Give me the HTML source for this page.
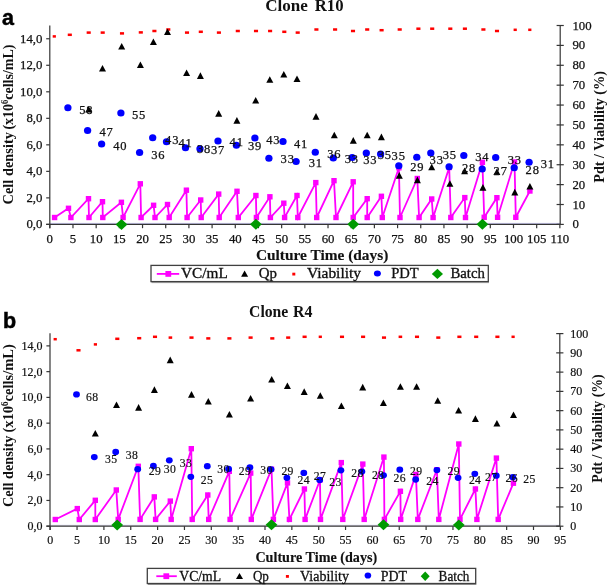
<!DOCTYPE html>
<html><head><meta charset="utf-8"><title>Clone R10 / Clone R4</title>
<style>html,body{margin:0;padding:0;background:#fff;}svg{display:block;}</style>
</head><body>
<svg width="609" height="586" viewBox="0 0 609 586">
<rect width="609" height="586" fill="#fff"/>
<line x1="49.80" y1="223.40" x2="560.20" y2="223.40" stroke="#c9c6f2" stroke-width="1.0"/>
<line x1="49.80" y1="25.50" x2="49.80" y2="228.20" stroke="#353535" stroke-width="1.2"/>
<line x1="46.20" y1="224.40" x2="560.20" y2="224.40" stroke="#353535" stroke-width="1.2"/>
<line x1="560.20" y1="25.50" x2="560.20" y2="224.40" stroke="#353535" stroke-width="1.2"/>
<line x1="46.20" y1="224.40" x2="49.80" y2="224.40" stroke="#353535" stroke-width="1.2"/>
<text transform="translate(42.40,228.40)" font-size="12.8" font-family="'Liberation Serif','Times New Roman',serif" fill="#111" stroke="#111" stroke-width="0.25" text-anchor="end">0,0</text>
<line x1="46.20" y1="197.88" x2="49.80" y2="197.88" stroke="#353535" stroke-width="1.2"/>
<text transform="translate(42.40,201.88)" font-size="12.8" font-family="'Liberation Serif','Times New Roman',serif" fill="#111" stroke="#111" stroke-width="0.25" text-anchor="end">2,0</text>
<line x1="46.20" y1="171.36" x2="49.80" y2="171.36" stroke="#353535" stroke-width="1.2"/>
<text transform="translate(42.40,175.36)" font-size="12.8" font-family="'Liberation Serif','Times New Roman',serif" fill="#111" stroke="#111" stroke-width="0.25" text-anchor="end">4,0</text>
<line x1="46.20" y1="144.84" x2="49.80" y2="144.84" stroke="#353535" stroke-width="1.2"/>
<text transform="translate(42.40,148.84)" font-size="12.8" font-family="'Liberation Serif','Times New Roman',serif" fill="#111" stroke="#111" stroke-width="0.25" text-anchor="end">6,0</text>
<line x1="46.20" y1="118.32" x2="49.80" y2="118.32" stroke="#353535" stroke-width="1.2"/>
<text transform="translate(42.40,122.32)" font-size="12.8" font-family="'Liberation Serif','Times New Roman',serif" fill="#111" stroke="#111" stroke-width="0.25" text-anchor="end">8,0</text>
<line x1="46.20" y1="91.80" x2="49.80" y2="91.80" stroke="#353535" stroke-width="1.2"/>
<text transform="translate(42.40,95.80)" font-size="12.8" font-family="'Liberation Serif','Times New Roman',serif" fill="#111" stroke="#111" stroke-width="0.25" text-anchor="end">10,0</text>
<line x1="46.20" y1="65.28" x2="49.80" y2="65.28" stroke="#353535" stroke-width="1.2"/>
<text transform="translate(42.40,69.28)" font-size="12.8" font-family="'Liberation Serif','Times New Roman',serif" fill="#111" stroke="#111" stroke-width="0.25" text-anchor="end">12,0</text>
<line x1="46.20" y1="38.76" x2="49.80" y2="38.76" stroke="#353535" stroke-width="1.2"/>
<text transform="translate(42.40,42.76)" font-size="12.8" font-family="'Liberation Serif','Times New Roman',serif" fill="#111" stroke="#111" stroke-width="0.25" text-anchor="end">14,0</text>
<line x1="556.60" y1="224.40" x2="563.80" y2="224.40" stroke="#353535" stroke-width="1.2"/>
<text transform="translate(572.40,228.40)" font-size="12.8" font-family="'Liberation Serif','Times New Roman',serif" fill="#111" stroke="#111" stroke-width="0.25">0</text>
<line x1="556.60" y1="204.51" x2="563.80" y2="204.51" stroke="#353535" stroke-width="1.2"/>
<text transform="translate(572.40,208.51)" font-size="12.8" font-family="'Liberation Serif','Times New Roman',serif" fill="#111" stroke="#111" stroke-width="0.25">10</text>
<line x1="556.60" y1="184.62" x2="563.80" y2="184.62" stroke="#353535" stroke-width="1.2"/>
<text transform="translate(572.40,188.62)" font-size="12.8" font-family="'Liberation Serif','Times New Roman',serif" fill="#111" stroke="#111" stroke-width="0.25">20</text>
<line x1="556.60" y1="164.73" x2="563.80" y2="164.73" stroke="#353535" stroke-width="1.2"/>
<text transform="translate(572.40,168.73)" font-size="12.8" font-family="'Liberation Serif','Times New Roman',serif" fill="#111" stroke="#111" stroke-width="0.25">30</text>
<line x1="556.60" y1="144.84" x2="563.80" y2="144.84" stroke="#353535" stroke-width="1.2"/>
<text transform="translate(572.40,148.84)" font-size="12.8" font-family="'Liberation Serif','Times New Roman',serif" fill="#111" stroke="#111" stroke-width="0.25">40</text>
<line x1="556.60" y1="124.95" x2="563.80" y2="124.95" stroke="#353535" stroke-width="1.2"/>
<text transform="translate(572.40,128.95)" font-size="12.8" font-family="'Liberation Serif','Times New Roman',serif" fill="#111" stroke="#111" stroke-width="0.25">50</text>
<line x1="556.60" y1="105.06" x2="563.80" y2="105.06" stroke="#353535" stroke-width="1.2"/>
<text transform="translate(572.40,109.06)" font-size="12.8" font-family="'Liberation Serif','Times New Roman',serif" fill="#111" stroke="#111" stroke-width="0.25">60</text>
<line x1="556.60" y1="85.17" x2="563.80" y2="85.17" stroke="#353535" stroke-width="1.2"/>
<text transform="translate(572.40,89.17)" font-size="12.8" font-family="'Liberation Serif','Times New Roman',serif" fill="#111" stroke="#111" stroke-width="0.25">70</text>
<line x1="556.60" y1="65.28" x2="563.80" y2="65.28" stroke="#353535" stroke-width="1.2"/>
<text transform="translate(572.40,69.28)" font-size="12.8" font-family="'Liberation Serif','Times New Roman',serif" fill="#111" stroke="#111" stroke-width="0.25">80</text>
<line x1="556.60" y1="45.39" x2="563.80" y2="45.39" stroke="#353535" stroke-width="1.2"/>
<text transform="translate(572.40,49.39)" font-size="12.8" font-family="'Liberation Serif','Times New Roman',serif" fill="#111" stroke="#111" stroke-width="0.25">90</text>
<line x1="556.60" y1="25.50" x2="563.80" y2="25.50" stroke="#353535" stroke-width="1.2"/>
<text transform="translate(572.40,29.50)" font-size="12.8" font-family="'Liberation Serif','Times New Roman',serif" fill="#111" stroke="#111" stroke-width="0.25">100</text>
<line x1="49.80" y1="224.40" x2="49.80" y2="228.20" stroke="#353535" stroke-width="1.2"/>
<text transform="translate(49.80,242.70)" font-size="12.8" font-family="'Liberation Serif','Times New Roman',serif" fill="#111" stroke="#111" stroke-width="0.25" text-anchor="middle">0</text>
<line x1="72.98" y1="224.40" x2="72.98" y2="228.20" stroke="#353535" stroke-width="1.2"/>
<text transform="translate(72.98,242.70)" font-size="12.8" font-family="'Liberation Serif','Times New Roman',serif" fill="#111" stroke="#111" stroke-width="0.25" text-anchor="middle">5</text>
<line x1="96.17" y1="224.40" x2="96.17" y2="228.20" stroke="#353535" stroke-width="1.2"/>
<text transform="translate(96.17,242.70)" font-size="12.8" font-family="'Liberation Serif','Times New Roman',serif" fill="#111" stroke="#111" stroke-width="0.25" text-anchor="middle">10</text>
<line x1="119.35" y1="224.40" x2="119.35" y2="228.20" stroke="#353535" stroke-width="1.2"/>
<text transform="translate(119.35,242.70)" font-size="12.8" font-family="'Liberation Serif','Times New Roman',serif" fill="#111" stroke="#111" stroke-width="0.25" text-anchor="middle">15</text>
<line x1="142.54" y1="224.40" x2="142.54" y2="228.20" stroke="#353535" stroke-width="1.2"/>
<text transform="translate(142.54,242.70)" font-size="12.8" font-family="'Liberation Serif','Times New Roman',serif" fill="#111" stroke="#111" stroke-width="0.25" text-anchor="middle">20</text>
<line x1="165.72" y1="224.40" x2="165.72" y2="228.20" stroke="#353535" stroke-width="1.2"/>
<text transform="translate(165.72,242.70)" font-size="12.8" font-family="'Liberation Serif','Times New Roman',serif" fill="#111" stroke="#111" stroke-width="0.25" text-anchor="middle">25</text>
<line x1="188.91" y1="224.40" x2="188.91" y2="228.20" stroke="#353535" stroke-width="1.2"/>
<text transform="translate(188.91,242.70)" font-size="12.8" font-family="'Liberation Serif','Times New Roman',serif" fill="#111" stroke="#111" stroke-width="0.25" text-anchor="middle">30</text>
<line x1="212.09" y1="224.40" x2="212.09" y2="228.20" stroke="#353535" stroke-width="1.2"/>
<text transform="translate(212.09,242.70)" font-size="12.8" font-family="'Liberation Serif','Times New Roman',serif" fill="#111" stroke="#111" stroke-width="0.25" text-anchor="middle">35</text>
<line x1="235.28" y1="224.40" x2="235.28" y2="228.20" stroke="#353535" stroke-width="1.2"/>
<text transform="translate(235.28,242.70)" font-size="12.8" font-family="'Liberation Serif','Times New Roman',serif" fill="#111" stroke="#111" stroke-width="0.25" text-anchor="middle">40</text>
<line x1="258.46" y1="224.40" x2="258.46" y2="228.20" stroke="#353535" stroke-width="1.2"/>
<text transform="translate(258.46,242.70)" font-size="12.8" font-family="'Liberation Serif','Times New Roman',serif" fill="#111" stroke="#111" stroke-width="0.25" text-anchor="middle">45</text>
<line x1="281.65" y1="224.40" x2="281.65" y2="228.20" stroke="#353535" stroke-width="1.2"/>
<text transform="translate(281.65,242.70)" font-size="12.8" font-family="'Liberation Serif','Times New Roman',serif" fill="#111" stroke="#111" stroke-width="0.25" text-anchor="middle">50</text>
<line x1="304.83" y1="224.40" x2="304.83" y2="228.20" stroke="#353535" stroke-width="1.2"/>
<text transform="translate(304.83,242.70)" font-size="12.8" font-family="'Liberation Serif','Times New Roman',serif" fill="#111" stroke="#111" stroke-width="0.25" text-anchor="middle">55</text>
<line x1="328.02" y1="224.40" x2="328.02" y2="228.20" stroke="#353535" stroke-width="1.2"/>
<text transform="translate(328.02,242.70)" font-size="12.8" font-family="'Liberation Serif','Times New Roman',serif" fill="#111" stroke="#111" stroke-width="0.25" text-anchor="middle">60</text>
<line x1="351.20" y1="224.40" x2="351.20" y2="228.20" stroke="#353535" stroke-width="1.2"/>
<text transform="translate(351.20,242.70)" font-size="12.8" font-family="'Liberation Serif','Times New Roman',serif" fill="#111" stroke="#111" stroke-width="0.25" text-anchor="middle">65</text>
<line x1="374.39" y1="224.40" x2="374.39" y2="228.20" stroke="#353535" stroke-width="1.2"/>
<text transform="translate(374.39,242.70)" font-size="12.8" font-family="'Liberation Serif','Times New Roman',serif" fill="#111" stroke="#111" stroke-width="0.25" text-anchor="middle">70</text>
<line x1="397.57" y1="224.40" x2="397.57" y2="228.20" stroke="#353535" stroke-width="1.2"/>
<text transform="translate(397.57,242.70)" font-size="12.8" font-family="'Liberation Serif','Times New Roman',serif" fill="#111" stroke="#111" stroke-width="0.25" text-anchor="middle">75</text>
<line x1="420.76" y1="224.40" x2="420.76" y2="228.20" stroke="#353535" stroke-width="1.2"/>
<text transform="translate(420.76,242.70)" font-size="12.8" font-family="'Liberation Serif','Times New Roman',serif" fill="#111" stroke="#111" stroke-width="0.25" text-anchor="middle">80</text>
<line x1="443.94" y1="224.40" x2="443.94" y2="228.20" stroke="#353535" stroke-width="1.2"/>
<text transform="translate(443.94,242.70)" font-size="12.8" font-family="'Liberation Serif','Times New Roman',serif" fill="#111" stroke="#111" stroke-width="0.25" text-anchor="middle">85</text>
<line x1="467.13" y1="224.40" x2="467.13" y2="228.20" stroke="#353535" stroke-width="1.2"/>
<text transform="translate(467.13,242.70)" font-size="12.8" font-family="'Liberation Serif','Times New Roman',serif" fill="#111" stroke="#111" stroke-width="0.25" text-anchor="middle">90</text>
<line x1="490.31" y1="224.40" x2="490.31" y2="228.20" stroke="#353535" stroke-width="1.2"/>
<text transform="translate(490.31,242.70)" font-size="12.8" font-family="'Liberation Serif','Times New Roman',serif" fill="#111" stroke="#111" stroke-width="0.25" text-anchor="middle">95</text>
<line x1="513.50" y1="224.40" x2="513.50" y2="228.20" stroke="#353535" stroke-width="1.2"/>
<text transform="translate(513.50,242.70)" font-size="12.8" font-family="'Liberation Serif','Times New Roman',serif" fill="#111" stroke="#111" stroke-width="0.25" text-anchor="middle">100</text>
<line x1="536.68" y1="224.40" x2="536.68" y2="228.20" stroke="#353535" stroke-width="1.2"/>
<text transform="translate(536.68,242.70)" font-size="12.8" font-family="'Liberation Serif','Times New Roman',serif" fill="#111" stroke="#111" stroke-width="0.25" text-anchor="middle">105</text>
<line x1="559.87" y1="224.40" x2="559.87" y2="228.20" stroke="#353535" stroke-width="1.2"/>
<text transform="translate(559.87,242.70)" font-size="12.8" font-family="'Liberation Serif','Times New Roman',serif" fill="#111" stroke="#111" stroke-width="0.25" text-anchor="middle">110</text>
<polyline points="54.60,217.50 68.50,208.30 70.90,217.50 88.50,198.70 89.00,217.50 102.50,201.70 102.80,217.50 121.40,202.30 123.10,217.50 140.30,183.80 141.10,217.50 153.60,205.30 155.00,217.50 167.50,204.50 169.20,217.50 186.40,190.20 187.10,217.50 200.70,200.00 201.20,217.50 218.70,194.10 219.20,217.50 237.00,191.30 238.30,217.50 255.90,195.50 256.40,217.50 269.90,196.80 270.40,217.50 283.80,203.20 284.60,217.50 297.00,195.50 297.80,217.50 315.80,182.60 316.70,217.50 334.00,180.70 336.00,217.50 353.20,181.80 353.20,217.50 367.20,198.70 367.20,217.50 381.40,196.30 382.30,217.50 398.90,167.80 400.00,217.50 417.30,178.50 419.10,217.50 431.70,199.00 433.10,217.50 449.20,167.50 450.80,217.50 464.80,197.60 465.50,217.50 482.40,162.30 484.20,217.30 496.90,197.70 497.60,217.30 514.50,162.00 515.80,217.30 529.90,191.00" fill="none" stroke="#ff00ff" stroke-width="1.8" stroke-linejoin="miter"/>
<rect x="51.90" y="214.80" width="5.4" height="5.4" fill="#ff00ff"/>
<rect x="65.80" y="205.60" width="5.4" height="5.4" fill="#ff00ff"/>
<rect x="68.20" y="214.80" width="5.4" height="5.4" fill="#ff00ff"/>
<rect x="85.80" y="196.00" width="5.4" height="5.4" fill="#ff00ff"/>
<rect x="86.30" y="214.80" width="5.4" height="5.4" fill="#ff00ff"/>
<rect x="99.80" y="199.00" width="5.4" height="5.4" fill="#ff00ff"/>
<rect x="100.10" y="214.80" width="5.4" height="5.4" fill="#ff00ff"/>
<rect x="118.70" y="199.60" width="5.4" height="5.4" fill="#ff00ff"/>
<rect x="120.40" y="214.80" width="5.4" height="5.4" fill="#ff00ff"/>
<rect x="137.60" y="181.10" width="5.4" height="5.4" fill="#ff00ff"/>
<rect x="138.40" y="214.80" width="5.4" height="5.4" fill="#ff00ff"/>
<rect x="150.90" y="202.60" width="5.4" height="5.4" fill="#ff00ff"/>
<rect x="152.30" y="214.80" width="5.4" height="5.4" fill="#ff00ff"/>
<rect x="164.80" y="201.80" width="5.4" height="5.4" fill="#ff00ff"/>
<rect x="166.50" y="214.80" width="5.4" height="5.4" fill="#ff00ff"/>
<rect x="183.70" y="187.50" width="5.4" height="5.4" fill="#ff00ff"/>
<rect x="184.40" y="214.80" width="5.4" height="5.4" fill="#ff00ff"/>
<rect x="198.00" y="197.30" width="5.4" height="5.4" fill="#ff00ff"/>
<rect x="198.50" y="214.80" width="5.4" height="5.4" fill="#ff00ff"/>
<rect x="216.00" y="191.40" width="5.4" height="5.4" fill="#ff00ff"/>
<rect x="216.50" y="214.80" width="5.4" height="5.4" fill="#ff00ff"/>
<rect x="234.30" y="188.60" width="5.4" height="5.4" fill="#ff00ff"/>
<rect x="235.60" y="214.80" width="5.4" height="5.4" fill="#ff00ff"/>
<rect x="253.20" y="192.80" width="5.4" height="5.4" fill="#ff00ff"/>
<rect x="253.70" y="214.80" width="5.4" height="5.4" fill="#ff00ff"/>
<rect x="267.20" y="194.10" width="5.4" height="5.4" fill="#ff00ff"/>
<rect x="267.70" y="214.80" width="5.4" height="5.4" fill="#ff00ff"/>
<rect x="281.10" y="200.50" width="5.4" height="5.4" fill="#ff00ff"/>
<rect x="281.90" y="214.80" width="5.4" height="5.4" fill="#ff00ff"/>
<rect x="294.30" y="192.80" width="5.4" height="5.4" fill="#ff00ff"/>
<rect x="295.10" y="214.80" width="5.4" height="5.4" fill="#ff00ff"/>
<rect x="313.10" y="179.90" width="5.4" height="5.4" fill="#ff00ff"/>
<rect x="314.00" y="214.80" width="5.4" height="5.4" fill="#ff00ff"/>
<rect x="331.30" y="178.00" width="5.4" height="5.4" fill="#ff00ff"/>
<rect x="333.30" y="214.80" width="5.4" height="5.4" fill="#ff00ff"/>
<rect x="350.50" y="179.10" width="5.4" height="5.4" fill="#ff00ff"/>
<rect x="350.50" y="214.80" width="5.4" height="5.4" fill="#ff00ff"/>
<rect x="364.50" y="196.00" width="5.4" height="5.4" fill="#ff00ff"/>
<rect x="364.50" y="214.80" width="5.4" height="5.4" fill="#ff00ff"/>
<rect x="378.70" y="193.60" width="5.4" height="5.4" fill="#ff00ff"/>
<rect x="379.60" y="214.80" width="5.4" height="5.4" fill="#ff00ff"/>
<rect x="396.20" y="165.10" width="5.4" height="5.4" fill="#ff00ff"/>
<rect x="397.30" y="214.80" width="5.4" height="5.4" fill="#ff00ff"/>
<rect x="414.60" y="175.80" width="5.4" height="5.4" fill="#ff00ff"/>
<rect x="416.40" y="214.80" width="5.4" height="5.4" fill="#ff00ff"/>
<rect x="429.00" y="196.30" width="5.4" height="5.4" fill="#ff00ff"/>
<rect x="430.40" y="214.80" width="5.4" height="5.4" fill="#ff00ff"/>
<rect x="446.50" y="164.80" width="5.4" height="5.4" fill="#ff00ff"/>
<rect x="448.10" y="214.80" width="5.4" height="5.4" fill="#ff00ff"/>
<rect x="462.10" y="194.90" width="5.4" height="5.4" fill="#ff00ff"/>
<rect x="462.80" y="214.80" width="5.4" height="5.4" fill="#ff00ff"/>
<rect x="479.70" y="159.60" width="5.4" height="5.4" fill="#ff00ff"/>
<rect x="481.50" y="214.60" width="5.4" height="5.4" fill="#ff00ff"/>
<rect x="494.20" y="195.00" width="5.4" height="5.4" fill="#ff00ff"/>
<rect x="494.90" y="214.60" width="5.4" height="5.4" fill="#ff00ff"/>
<rect x="511.80" y="159.30" width="5.4" height="5.4" fill="#ff00ff"/>
<rect x="513.10" y="214.60" width="5.4" height="5.4" fill="#ff00ff"/>
<rect x="527.20" y="188.30" width="5.4" height="5.4" fill="#ff00ff"/>
<rect x="52.70" y="35.15" width="3.2" height="2.5" fill="#ff0000"/>
<rect x="67.75" y="33.55" width="4.1" height="2.5" fill="#ff0000"/>
<rect x="86.65" y="31.35" width="4.1" height="2.5" fill="#ff0000"/>
<rect x="100.65" y="31.35" width="4.1" height="2.5" fill="#ff0000"/>
<rect x="119.95" y="32.15" width="4.1" height="2.5" fill="#ff0000"/>
<rect x="138.75" y="31.15" width="4.1" height="2.5" fill="#ff0000"/>
<rect x="152.35" y="29.75" width="4.1" height="2.5" fill="#ff0000"/>
<rect x="166.25" y="28.25" width="4.1" height="2.5" fill="#ff0000"/>
<rect x="184.95" y="31.35" width="4.1" height="2.5" fill="#ff0000"/>
<rect x="198.75" y="30.55" width="4.1" height="2.5" fill="#ff0000"/>
<rect x="216.85" y="31.35" width="4.1" height="2.5" fill="#ff0000"/>
<rect x="235.75" y="29.75" width="4.1" height="2.5" fill="#ff0000"/>
<rect x="253.95" y="29.75" width="4.1" height="2.5" fill="#ff0000"/>
<rect x="268.05" y="29.75" width="4.1" height="2.5" fill="#ff0000"/>
<rect x="282.25" y="30.55" width="4.1" height="2.5" fill="#ff0000"/>
<rect x="295.65" y="31.35" width="4.1" height="2.5" fill="#ff0000"/>
<rect x="314.35" y="28.25" width="4.1" height="2.5" fill="#ff0000"/>
<rect x="333.05" y="28.25" width="4.1" height="2.5" fill="#ff0000"/>
<rect x="350.95" y="29.75" width="4.1" height="2.5" fill="#ff0000"/>
<rect x="365.15" y="28.25" width="4.1" height="2.5" fill="#ff0000"/>
<rect x="379.55" y="28.95" width="4.1" height="2.5" fill="#ff0000"/>
<rect x="397.65" y="28.25" width="4.1" height="2.5" fill="#ff0000"/>
<rect x="416.35" y="27.45" width="4.1" height="2.5" fill="#ff0000"/>
<rect x="430.15" y="27.45" width="4.1" height="2.5" fill="#ff0000"/>
<rect x="448.25" y="27.45" width="4.1" height="2.5" fill="#ff0000"/>
<rect x="462.85" y="27.45" width="4.1" height="2.5" fill="#ff0000"/>
<rect x="481.35" y="28.25" width="4.1" height="2.5" fill="#ff0000"/>
<rect x="494.95" y="29.75" width="4.1" height="2.5" fill="#ff0000"/>
<rect x="513.60" y="28.55" width="3.2" height="2.5" fill="#ff0000"/>
<rect x="528.20" y="28.55" width="3.2" height="2.5" fill="#ff0000"/>
<path d="M85.20 112.60L92.20 112.60L88.70 106.00Z" fill="#000"/>
<path d="M99.00 71.60L106.00 71.60L102.50 65.00Z" fill="#000"/>
<path d="M118.20 49.50L125.20 49.50L121.70 42.90Z" fill="#000"/>
<path d="M136.90 68.00L143.90 68.00L140.40 61.40Z" fill="#000"/>
<path d="M149.90 45.00L156.90 45.00L153.40 38.40Z" fill="#000"/>
<path d="M164.00 35.10L171.00 35.10L167.50 28.50Z" fill="#000"/>
<path d="M183.10 76.10L190.10 76.10L186.60 69.50Z" fill="#000"/>
<path d="M196.90 78.90L203.90 78.90L200.40 72.30Z" fill="#000"/>
<path d="M215.20 116.70L222.20 116.70L218.70 110.10Z" fill="#000"/>
<path d="M233.40 123.70L240.40 123.70L236.90 117.10Z" fill="#000"/>
<path d="M252.20 103.60L259.20 103.60L255.70 97.00Z" fill="#000"/>
<path d="M266.30 82.80L273.30 82.80L269.80 76.20Z" fill="#000"/>
<path d="M280.30 77.60L287.30 77.60L283.80 71.00Z" fill="#000"/>
<path d="M293.50 82.10L300.50 82.10L297.00 75.50Z" fill="#000"/>
<path d="M312.50 119.70L319.50 119.70L316.00 113.10Z" fill="#000"/>
<path d="M330.80 138.30L337.80 138.30L334.30 131.70Z" fill="#000"/>
<path d="M349.80 143.70L356.80 143.70L353.30 137.10Z" fill="#000"/>
<path d="M363.70 138.30L370.70 138.30L367.20 131.70Z" fill="#000"/>
<path d="M377.90 140.20L384.90 140.20L381.40 133.60Z" fill="#000"/>
<path d="M395.80 178.70L402.80 178.70L399.30 172.10Z" fill="#000"/>
<path d="M413.90 183.20L420.90 183.20L417.40 176.60Z" fill="#000"/>
<path d="M428.20 170.30L435.20 170.30L431.70 163.70Z" fill="#000"/>
<path d="M446.40 186.80L453.40 186.80L449.90 180.20Z" fill="#000"/>
<path d="M461.10 174.20L468.10 174.20L464.60 167.60Z" fill="#000"/>
<path d="M479.40 190.70L486.40 190.70L482.90 184.10Z" fill="#000"/>
<path d="M493.40 175.00L500.40 175.00L496.90 168.40Z" fill="#000"/>
<path d="M511.30 195.40L518.30 195.40L514.80 188.80Z" fill="#000"/>
<path d="M526.40 189.60L533.40 189.60L529.90 183.00Z" fill="#000"/>
<ellipse cx="67.90" cy="107.70" rx="3.65" ry="3.5" fill="#0000ff"/>
<ellipse cx="87.60" cy="130.50" rx="3.65" ry="3.5" fill="#0000ff"/>
<ellipse cx="101.60" cy="144.10" rx="3.65" ry="3.5" fill="#0000ff"/>
<ellipse cx="120.90" cy="113.00" rx="3.65" ry="3.5" fill="#0000ff"/>
<ellipse cx="139.60" cy="152.40" rx="3.65" ry="3.5" fill="#0000ff"/>
<ellipse cx="152.70" cy="137.80" rx="3.65" ry="3.5" fill="#0000ff"/>
<ellipse cx="166.50" cy="141.80" rx="3.65" ry="3.5" fill="#0000ff"/>
<ellipse cx="185.50" cy="147.70" rx="3.65" ry="3.5" fill="#0000ff"/>
<ellipse cx="200.00" cy="148.70" rx="3.65" ry="3.5" fill="#0000ff"/>
<ellipse cx="218.00" cy="141.00" rx="3.65" ry="3.5" fill="#0000ff"/>
<ellipse cx="236.40" cy="145.20" rx="3.65" ry="3.5" fill="#0000ff"/>
<ellipse cx="254.90" cy="137.90" rx="3.65" ry="3.5" fill="#0000ff"/>
<ellipse cx="268.90" cy="158.20" rx="3.65" ry="3.5" fill="#0000ff"/>
<ellipse cx="283.00" cy="141.50" rx="3.65" ry="3.5" fill="#0000ff"/>
<ellipse cx="296.10" cy="161.50" rx="3.65" ry="3.5" fill="#0000ff"/>
<ellipse cx="315.30" cy="152.30" rx="3.65" ry="3.5" fill="#0000ff"/>
<ellipse cx="333.30" cy="157.90" rx="3.65" ry="3.5" fill="#0000ff"/>
<ellipse cx="352.20" cy="157.50" rx="3.65" ry="3.5" fill="#0000ff"/>
<ellipse cx="366.30" cy="153.00" rx="3.65" ry="3.5" fill="#0000ff"/>
<ellipse cx="380.60" cy="154.10" rx="3.65" ry="3.5" fill="#0000ff"/>
<ellipse cx="398.80" cy="165.80" rx="3.65" ry="3.5" fill="#0000ff"/>
<ellipse cx="416.80" cy="157.20" rx="3.65" ry="3.5" fill="#0000ff"/>
<ellipse cx="430.80" cy="152.90" rx="3.65" ry="3.5" fill="#0000ff"/>
<ellipse cx="449.10" cy="166.70" rx="3.65" ry="3.5" fill="#0000ff"/>
<ellipse cx="463.80" cy="155.40" rx="3.65" ry="3.5" fill="#0000ff"/>
<ellipse cx="482.20" cy="169.10" rx="3.65" ry="3.5" fill="#0000ff"/>
<ellipse cx="495.70" cy="157.60" rx="3.65" ry="3.5" fill="#0000ff"/>
<ellipse cx="514.20" cy="167.80" rx="3.65" ry="3.5" fill="#0000ff"/>
<ellipse cx="529.10" cy="162.30" rx="3.65" ry="3.5" fill="#0000ff"/>
<path d="M121.50 218.90L127.40 224.40L121.50 229.90L115.60 224.40Z" fill="#009a00"/>
<path d="M255.90 218.80L261.80 224.30L255.90 229.80L250.00 224.30Z" fill="#009a00"/>
<path d="M353.20 218.80L359.10 224.30L353.20 229.80L347.30 224.30Z" fill="#009a00"/>
<path d="M482.40 218.70L488.30 224.20L482.40 229.70L476.50 224.20Z" fill="#009a00"/>
<text transform="translate(79.30,113.70)" font-size="12.5" font-family="'Liberation Serif','Times New Roman',serif" fill="#111" stroke="#111" stroke-width="0.25" letter-spacing="0.8">58</text>
<text transform="translate(99.40,135.70)" font-size="12.5" font-family="'Liberation Serif','Times New Roman',serif" fill="#111" stroke="#111" stroke-width="0.25" letter-spacing="0.8">47</text>
<text transform="translate(113.20,149.90)" font-size="12.5" font-family="'Liberation Serif','Times New Roman',serif" fill="#111" stroke="#111" stroke-width="0.25" letter-spacing="0.8">40</text>
<text transform="translate(131.90,119.00)" font-size="12.5" font-family="'Liberation Serif','Times New Roman',serif" fill="#111" stroke="#111" stroke-width="0.25" letter-spacing="0.8">55</text>
<text transform="translate(151.30,158.50)" font-size="12.5" font-family="'Liberation Serif','Times New Roman',serif" fill="#111" stroke="#111" stroke-width="0.25" letter-spacing="0.8">36</text>
<text transform="translate(165.10,144.00)" font-size="12.5" font-family="'Liberation Serif','Times New Roman',serif" fill="#111" stroke="#111" stroke-width="0.25" letter-spacing="0.8">43</text>
<text transform="translate(178.40,147.00)" font-size="12.5" font-family="'Liberation Serif','Times New Roman',serif" fill="#111" stroke="#111" stroke-width="0.25" letter-spacing="0.8">41</text>
<text transform="translate(196.90,153.40)" font-size="12.5" font-family="'Liberation Serif','Times New Roman',serif" fill="#111" stroke="#111" stroke-width="0.25" letter-spacing="0.8">38</text>
<text transform="translate(210.90,154.10)" font-size="12.5" font-family="'Liberation Serif','Times New Roman',serif" fill="#111" stroke="#111" stroke-width="0.25" letter-spacing="0.8">37</text>
<text transform="translate(229.60,145.70)" font-size="12.5" font-family="'Liberation Serif','Times New Roman',serif" fill="#111" stroke="#111" stroke-width="0.25" letter-spacing="0.8">41</text>
<text transform="translate(248.00,150.20)" font-size="12.5" font-family="'Liberation Serif','Times New Roman',serif" fill="#111" stroke="#111" stroke-width="0.25" letter-spacing="0.8">39</text>
<text transform="translate(266.20,144.30)" font-size="12.5" font-family="'Liberation Serif','Times New Roman',serif" fill="#111" stroke="#111" stroke-width="0.25" letter-spacing="0.8">43</text>
<text transform="translate(280.60,163.30)" font-size="12.5" font-family="'Liberation Serif','Times New Roman',serif" fill="#111" stroke="#111" stroke-width="0.25" letter-spacing="0.8">33</text>
<text transform="translate(294.00,147.90)" font-size="12.5" font-family="'Liberation Serif','Times New Roman',serif" fill="#111" stroke="#111" stroke-width="0.25" letter-spacing="0.8">41</text>
<text transform="translate(308.70,167.10)" font-size="12.5" font-family="'Liberation Serif','Times New Roman',serif" fill="#111" stroke="#111" stroke-width="0.25" letter-spacing="0.8">31</text>
<text transform="translate(327.20,157.50)" font-size="12.5" font-family="'Liberation Serif','Times New Roman',serif" fill="#111" stroke="#111" stroke-width="0.25" letter-spacing="0.8">36</text>
<text transform="translate(344.70,163.20)" font-size="12.5" font-family="'Liberation Serif','Times New Roman',serif" fill="#111" stroke="#111" stroke-width="0.25" letter-spacing="0.8">33</text>
<text transform="translate(363.20,163.50)" font-size="12.5" font-family="'Liberation Serif','Times New Roman',serif" fill="#111" stroke="#111" stroke-width="0.25" letter-spacing="0.8">33</text>
<text transform="translate(377.70,158.80)" font-size="12.5" font-family="'Liberation Serif','Times New Roman',serif" fill="#111" stroke="#111" stroke-width="0.25" letter-spacing="0.8">35</text>
<text transform="translate(391.60,159.60)" font-size="12.5" font-family="'Liberation Serif','Times New Roman',serif" fill="#111" stroke="#111" stroke-width="0.25" letter-spacing="0.8">35</text>
<text transform="translate(410.30,171.40)" font-size="12.5" font-family="'Liberation Serif','Times New Roman',serif" fill="#111" stroke="#111" stroke-width="0.25" letter-spacing="0.8">29</text>
<text transform="translate(429.60,163.50)" font-size="12.5" font-family="'Liberation Serif','Times New Roman',serif" fill="#111" stroke="#111" stroke-width="0.25" letter-spacing="0.8">33</text>
<text transform="translate(442.80,159.40)" font-size="12.5" font-family="'Liberation Serif','Times New Roman',serif" fill="#111" stroke="#111" stroke-width="0.25" letter-spacing="0.8">35</text>
<text transform="translate(462.00,172.20)" font-size="12.5" font-family="'Liberation Serif','Times New Roman',serif" fill="#111" stroke="#111" stroke-width="0.25" letter-spacing="0.8">28</text>
<text transform="translate(475.20,161.20)" font-size="12.5" font-family="'Liberation Serif','Times New Roman',serif" fill="#111" stroke="#111" stroke-width="0.25" letter-spacing="0.8">34</text>
<text transform="translate(493.60,174.80)" font-size="12.5" font-family="'Liberation Serif','Times New Roman',serif" fill="#111" stroke="#111" stroke-width="0.25" letter-spacing="0.8">27</text>
<text transform="translate(507.70,163.80)" font-size="12.5" font-family="'Liberation Serif','Times New Roman',serif" fill="#111" stroke="#111" stroke-width="0.25" letter-spacing="0.8">33</text>
<text transform="translate(525.60,174.00)" font-size="12.5" font-family="'Liberation Serif','Times New Roman',serif" fill="#111" stroke="#111" stroke-width="0.25" letter-spacing="0.8">28</text>
<text transform="translate(540.70,168.00)" font-size="12.5" font-family="'Liberation Serif','Times New Roman',serif" fill="#111" stroke="#111" stroke-width="0.25" letter-spacing="0.8">31</text>
<line x1="50.00" y1="525.20" x2="559.80" y2="525.20" stroke="#e2e0f6" stroke-width="1.0"/>
<line x1="50.00" y1="333.30" x2="50.00" y2="530.00" stroke="#353535" stroke-width="1.2"/>
<line x1="46.40" y1="526.20" x2="559.80" y2="526.20" stroke="#353535" stroke-width="1.2"/>
<line x1="559.80" y1="333.30" x2="559.80" y2="526.20" stroke="#353535" stroke-width="1.2"/>
<line x1="46.40" y1="526.20" x2="50.00" y2="526.20" stroke="#353535" stroke-width="1.2"/>
<text transform="translate(42.60,530.20)" font-size="12" font-family="'Liberation Serif','Times New Roman',serif" fill="#111" stroke="#111" stroke-width="0.2" text-anchor="end">0,0</text>
<line x1="46.40" y1="500.44" x2="50.00" y2="500.44" stroke="#353535" stroke-width="1.2"/>
<text transform="translate(42.60,504.44)" font-size="12" font-family="'Liberation Serif','Times New Roman',serif" fill="#111" stroke="#111" stroke-width="0.2" text-anchor="end">2,0</text>
<line x1="46.40" y1="474.68" x2="50.00" y2="474.68" stroke="#353535" stroke-width="1.2"/>
<text transform="translate(42.60,478.68)" font-size="12" font-family="'Liberation Serif','Times New Roman',serif" fill="#111" stroke="#111" stroke-width="0.2" text-anchor="end">4,0</text>
<line x1="46.40" y1="448.92" x2="50.00" y2="448.92" stroke="#353535" stroke-width="1.2"/>
<text transform="translate(42.60,452.92)" font-size="12" font-family="'Liberation Serif','Times New Roman',serif" fill="#111" stroke="#111" stroke-width="0.2" text-anchor="end">6,0</text>
<line x1="46.40" y1="423.16" x2="50.00" y2="423.16" stroke="#353535" stroke-width="1.2"/>
<text transform="translate(42.60,427.16)" font-size="12" font-family="'Liberation Serif','Times New Roman',serif" fill="#111" stroke="#111" stroke-width="0.2" text-anchor="end">8,0</text>
<line x1="46.40" y1="397.40" x2="50.00" y2="397.40" stroke="#353535" stroke-width="1.2"/>
<text transform="translate(42.60,401.40)" font-size="12" font-family="'Liberation Serif','Times New Roman',serif" fill="#111" stroke="#111" stroke-width="0.2" text-anchor="end">10,0</text>
<line x1="46.40" y1="371.64" x2="50.00" y2="371.64" stroke="#353535" stroke-width="1.2"/>
<text transform="translate(42.60,375.64)" font-size="12" font-family="'Liberation Serif','Times New Roman',serif" fill="#111" stroke="#111" stroke-width="0.2" text-anchor="end">12,0</text>
<line x1="46.40" y1="345.88" x2="50.00" y2="345.88" stroke="#353535" stroke-width="1.2"/>
<text transform="translate(42.60,349.88)" font-size="12" font-family="'Liberation Serif','Times New Roman',serif" fill="#111" stroke="#111" stroke-width="0.2" text-anchor="end">14,0</text>
<line x1="556.20" y1="526.20" x2="563.40" y2="526.20" stroke="#353535" stroke-width="1.2"/>
<text transform="translate(570.20,530.20)" font-size="12" font-family="'Liberation Serif','Times New Roman',serif" fill="#111" stroke="#111" stroke-width="0.2">0</text>
<line x1="556.20" y1="506.94" x2="563.40" y2="506.94" stroke="#353535" stroke-width="1.2"/>
<text transform="translate(570.20,510.94)" font-size="12" font-family="'Liberation Serif','Times New Roman',serif" fill="#111" stroke="#111" stroke-width="0.2">10</text>
<line x1="556.20" y1="487.68" x2="563.40" y2="487.68" stroke="#353535" stroke-width="1.2"/>
<text transform="translate(570.20,491.68)" font-size="12" font-family="'Liberation Serif','Times New Roman',serif" fill="#111" stroke="#111" stroke-width="0.2">20</text>
<line x1="556.20" y1="468.42" x2="563.40" y2="468.42" stroke="#353535" stroke-width="1.2"/>
<text transform="translate(570.20,472.42)" font-size="12" font-family="'Liberation Serif','Times New Roman',serif" fill="#111" stroke="#111" stroke-width="0.2">30</text>
<line x1="556.20" y1="449.16" x2="563.40" y2="449.16" stroke="#353535" stroke-width="1.2"/>
<text transform="translate(570.20,453.16)" font-size="12" font-family="'Liberation Serif','Times New Roman',serif" fill="#111" stroke="#111" stroke-width="0.2">40</text>
<line x1="556.20" y1="429.90" x2="563.40" y2="429.90" stroke="#353535" stroke-width="1.2"/>
<text transform="translate(570.20,433.90)" font-size="12" font-family="'Liberation Serif','Times New Roman',serif" fill="#111" stroke="#111" stroke-width="0.2">50</text>
<line x1="556.20" y1="410.64" x2="563.40" y2="410.64" stroke="#353535" stroke-width="1.2"/>
<text transform="translate(570.20,414.64)" font-size="12" font-family="'Liberation Serif','Times New Roman',serif" fill="#111" stroke="#111" stroke-width="0.2">60</text>
<line x1="556.20" y1="391.38" x2="563.40" y2="391.38" stroke="#353535" stroke-width="1.2"/>
<text transform="translate(570.20,395.38)" font-size="12" font-family="'Liberation Serif','Times New Roman',serif" fill="#111" stroke="#111" stroke-width="0.2">70</text>
<line x1="556.20" y1="372.12" x2="563.40" y2="372.12" stroke="#353535" stroke-width="1.2"/>
<text transform="translate(570.20,376.12)" font-size="12" font-family="'Liberation Serif','Times New Roman',serif" fill="#111" stroke="#111" stroke-width="0.2">80</text>
<line x1="556.20" y1="352.86" x2="563.40" y2="352.86" stroke="#353535" stroke-width="1.2"/>
<text transform="translate(570.20,356.86)" font-size="12" font-family="'Liberation Serif','Times New Roman',serif" fill="#111" stroke="#111" stroke-width="0.2">90</text>
<line x1="556.20" y1="333.60" x2="563.40" y2="333.60" stroke="#353535" stroke-width="1.2"/>
<text transform="translate(570.20,337.60)" font-size="12" font-family="'Liberation Serif','Times New Roman',serif" fill="#111" stroke="#111" stroke-width="0.2">100</text>
<line x1="50.20" y1="526.20" x2="50.20" y2="530.00" stroke="#353535" stroke-width="1.2"/>
<text transform="translate(50.20,544.20)" font-size="12" font-family="'Liberation Serif','Times New Roman',serif" fill="#111" stroke="#111" stroke-width="0.2" text-anchor="middle">0</text>
<line x1="77.05" y1="526.20" x2="77.05" y2="530.00" stroke="#353535" stroke-width="1.2"/>
<text transform="translate(77.05,544.20)" font-size="12" font-family="'Liberation Serif','Times New Roman',serif" fill="#111" stroke="#111" stroke-width="0.2" text-anchor="middle">5</text>
<line x1="103.90" y1="526.20" x2="103.90" y2="530.00" stroke="#353535" stroke-width="1.2"/>
<text transform="translate(103.90,544.20)" font-size="12" font-family="'Liberation Serif','Times New Roman',serif" fill="#111" stroke="#111" stroke-width="0.2" text-anchor="middle">10</text>
<line x1="130.75" y1="526.20" x2="130.75" y2="530.00" stroke="#353535" stroke-width="1.2"/>
<text transform="translate(130.75,544.20)" font-size="12" font-family="'Liberation Serif','Times New Roman',serif" fill="#111" stroke="#111" stroke-width="0.2" text-anchor="middle">15</text>
<line x1="157.60" y1="526.20" x2="157.60" y2="530.00" stroke="#353535" stroke-width="1.2"/>
<text transform="translate(157.60,544.20)" font-size="12" font-family="'Liberation Serif','Times New Roman',serif" fill="#111" stroke="#111" stroke-width="0.2" text-anchor="middle">20</text>
<line x1="184.45" y1="526.20" x2="184.45" y2="530.00" stroke="#353535" stroke-width="1.2"/>
<text transform="translate(184.45,544.20)" font-size="12" font-family="'Liberation Serif','Times New Roman',serif" fill="#111" stroke="#111" stroke-width="0.2" text-anchor="middle">25</text>
<line x1="211.30" y1="526.20" x2="211.30" y2="530.00" stroke="#353535" stroke-width="1.2"/>
<text transform="translate(211.30,544.20)" font-size="12" font-family="'Liberation Serif','Times New Roman',serif" fill="#111" stroke="#111" stroke-width="0.2" text-anchor="middle">30</text>
<line x1="238.15" y1="526.20" x2="238.15" y2="530.00" stroke="#353535" stroke-width="1.2"/>
<text transform="translate(238.15,544.20)" font-size="12" font-family="'Liberation Serif','Times New Roman',serif" fill="#111" stroke="#111" stroke-width="0.2" text-anchor="middle">35</text>
<line x1="265.00" y1="526.20" x2="265.00" y2="530.00" stroke="#353535" stroke-width="1.2"/>
<text transform="translate(265.00,544.20)" font-size="12" font-family="'Liberation Serif','Times New Roman',serif" fill="#111" stroke="#111" stroke-width="0.2" text-anchor="middle">40</text>
<line x1="291.85" y1="526.20" x2="291.85" y2="530.00" stroke="#353535" stroke-width="1.2"/>
<text transform="translate(291.85,544.20)" font-size="12" font-family="'Liberation Serif','Times New Roman',serif" fill="#111" stroke="#111" stroke-width="0.2" text-anchor="middle">45</text>
<line x1="318.70" y1="526.20" x2="318.70" y2="530.00" stroke="#353535" stroke-width="1.2"/>
<text transform="translate(318.70,544.20)" font-size="12" font-family="'Liberation Serif','Times New Roman',serif" fill="#111" stroke="#111" stroke-width="0.2" text-anchor="middle">50</text>
<line x1="345.55" y1="526.20" x2="345.55" y2="530.00" stroke="#353535" stroke-width="1.2"/>
<text transform="translate(345.55,544.20)" font-size="12" font-family="'Liberation Serif','Times New Roman',serif" fill="#111" stroke="#111" stroke-width="0.2" text-anchor="middle">55</text>
<line x1="372.40" y1="526.20" x2="372.40" y2="530.00" stroke="#353535" stroke-width="1.2"/>
<text transform="translate(372.40,544.20)" font-size="12" font-family="'Liberation Serif','Times New Roman',serif" fill="#111" stroke="#111" stroke-width="0.2" text-anchor="middle">60</text>
<line x1="399.25" y1="526.20" x2="399.25" y2="530.00" stroke="#353535" stroke-width="1.2"/>
<text transform="translate(399.25,544.20)" font-size="12" font-family="'Liberation Serif','Times New Roman',serif" fill="#111" stroke="#111" stroke-width="0.2" text-anchor="middle">65</text>
<line x1="426.10" y1="526.20" x2="426.10" y2="530.00" stroke="#353535" stroke-width="1.2"/>
<text transform="translate(426.10,544.20)" font-size="12" font-family="'Liberation Serif','Times New Roman',serif" fill="#111" stroke="#111" stroke-width="0.2" text-anchor="middle">70</text>
<line x1="452.95" y1="526.20" x2="452.95" y2="530.00" stroke="#353535" stroke-width="1.2"/>
<text transform="translate(452.95,544.20)" font-size="12" font-family="'Liberation Serif','Times New Roman',serif" fill="#111" stroke="#111" stroke-width="0.2" text-anchor="middle">75</text>
<line x1="479.80" y1="526.20" x2="479.80" y2="530.00" stroke="#353535" stroke-width="1.2"/>
<text transform="translate(479.80,544.20)" font-size="12" font-family="'Liberation Serif','Times New Roman',serif" fill="#111" stroke="#111" stroke-width="0.2" text-anchor="middle">80</text>
<line x1="506.65" y1="526.20" x2="506.65" y2="530.00" stroke="#353535" stroke-width="1.2"/>
<text transform="translate(506.65,544.20)" font-size="12" font-family="'Liberation Serif','Times New Roman',serif" fill="#111" stroke="#111" stroke-width="0.2" text-anchor="middle">85</text>
<line x1="533.50" y1="526.20" x2="533.50" y2="530.00" stroke="#353535" stroke-width="1.2"/>
<text transform="translate(533.50,544.20)" font-size="12" font-family="'Liberation Serif','Times New Roman',serif" fill="#111" stroke="#111" stroke-width="0.2" text-anchor="middle">90</text>
<line x1="560.35" y1="526.20" x2="560.35" y2="530.00" stroke="#353535" stroke-width="1.2"/>
<text transform="translate(560.35,544.20)" font-size="12" font-family="'Liberation Serif','Times New Roman',serif" fill="#111" stroke="#111" stroke-width="0.2" text-anchor="middle">95</text>
<polyline points="55.30,519.50 77.30,508.60 79.30,519.50 95.30,500.30 95.30,519.50 116.30,490.00 118.20,519.40 138.30,466.30 140.10,519.40 154.30,496.90 155.60,519.40 170.30,501.10 171.20,519.40 191.30,448.70 192.20,519.40 207.80,495.00 208.70,519.40 229.30,471.30 230.10,519.40 250.70,473.10 251.30,519.40 271.50,469.20 273.40,519.40 287.50,482.90 289.40,519.40 304.40,489.00 305.10,519.40 320.00,480.00 320.50,519.40 341.30,462.60 342.80,519.40 362.80,464.10 364.20,519.40 383.90,457.10 384.40,519.40 400.40,491.30 400.70,519.40 415.90,474.40 417.80,519.40 436.90,469.70 438.80,519.40 458.80,444.00 460.00,519.40 475.40,489.00 476.90,519.40 496.40,458.10 498.20,519.40 513.40,483.20" fill="none" stroke="#ff00ff" stroke-width="1.8" stroke-linejoin="miter"/>
<rect x="52.60" y="516.80" width="5.4" height="5.4" fill="#ff00ff"/>
<rect x="74.60" y="505.90" width="5.4" height="5.4" fill="#ff00ff"/>
<rect x="76.60" y="516.80" width="5.4" height="5.4" fill="#ff00ff"/>
<rect x="92.60" y="497.60" width="5.4" height="5.4" fill="#ff00ff"/>
<rect x="92.60" y="516.80" width="5.4" height="5.4" fill="#ff00ff"/>
<rect x="113.60" y="487.30" width="5.4" height="5.4" fill="#ff00ff"/>
<rect x="115.50" y="516.70" width="5.4" height="5.4" fill="#ff00ff"/>
<rect x="135.60" y="463.60" width="5.4" height="5.4" fill="#ff00ff"/>
<rect x="137.40" y="516.70" width="5.4" height="5.4" fill="#ff00ff"/>
<rect x="151.60" y="494.20" width="5.4" height="5.4" fill="#ff00ff"/>
<rect x="152.90" y="516.70" width="5.4" height="5.4" fill="#ff00ff"/>
<rect x="167.60" y="498.40" width="5.4" height="5.4" fill="#ff00ff"/>
<rect x="168.50" y="516.70" width="5.4" height="5.4" fill="#ff00ff"/>
<rect x="188.60" y="446.00" width="5.4" height="5.4" fill="#ff00ff"/>
<rect x="189.50" y="516.70" width="5.4" height="5.4" fill="#ff00ff"/>
<rect x="205.10" y="492.30" width="5.4" height="5.4" fill="#ff00ff"/>
<rect x="206.00" y="516.70" width="5.4" height="5.4" fill="#ff00ff"/>
<rect x="226.60" y="468.60" width="5.4" height="5.4" fill="#ff00ff"/>
<rect x="227.40" y="516.70" width="5.4" height="5.4" fill="#ff00ff"/>
<rect x="248.00" y="470.40" width="5.4" height="5.4" fill="#ff00ff"/>
<rect x="248.60" y="516.70" width="5.4" height="5.4" fill="#ff00ff"/>
<rect x="268.80" y="466.50" width="5.4" height="5.4" fill="#ff00ff"/>
<rect x="270.70" y="516.70" width="5.4" height="5.4" fill="#ff00ff"/>
<rect x="284.80" y="480.20" width="5.4" height="5.4" fill="#ff00ff"/>
<rect x="286.70" y="516.70" width="5.4" height="5.4" fill="#ff00ff"/>
<rect x="301.70" y="486.30" width="5.4" height="5.4" fill="#ff00ff"/>
<rect x="302.40" y="516.70" width="5.4" height="5.4" fill="#ff00ff"/>
<rect x="317.30" y="477.30" width="5.4" height="5.4" fill="#ff00ff"/>
<rect x="317.80" y="516.70" width="5.4" height="5.4" fill="#ff00ff"/>
<rect x="338.60" y="459.90" width="5.4" height="5.4" fill="#ff00ff"/>
<rect x="340.10" y="516.70" width="5.4" height="5.4" fill="#ff00ff"/>
<rect x="360.10" y="461.40" width="5.4" height="5.4" fill="#ff00ff"/>
<rect x="361.50" y="516.70" width="5.4" height="5.4" fill="#ff00ff"/>
<rect x="381.20" y="454.40" width="5.4" height="5.4" fill="#ff00ff"/>
<rect x="381.70" y="516.70" width="5.4" height="5.4" fill="#ff00ff"/>
<rect x="397.70" y="488.60" width="5.4" height="5.4" fill="#ff00ff"/>
<rect x="398.00" y="516.70" width="5.4" height="5.4" fill="#ff00ff"/>
<rect x="413.20" y="471.70" width="5.4" height="5.4" fill="#ff00ff"/>
<rect x="415.10" y="516.70" width="5.4" height="5.4" fill="#ff00ff"/>
<rect x="434.20" y="467.00" width="5.4" height="5.4" fill="#ff00ff"/>
<rect x="436.10" y="516.70" width="5.4" height="5.4" fill="#ff00ff"/>
<rect x="456.10" y="441.30" width="5.4" height="5.4" fill="#ff00ff"/>
<rect x="457.30" y="516.70" width="5.4" height="5.4" fill="#ff00ff"/>
<rect x="472.70" y="486.30" width="5.4" height="5.4" fill="#ff00ff"/>
<rect x="474.20" y="516.70" width="5.4" height="5.4" fill="#ff00ff"/>
<rect x="493.70" y="455.40" width="5.4" height="5.4" fill="#ff00ff"/>
<rect x="495.50" y="516.70" width="5.4" height="5.4" fill="#ff00ff"/>
<rect x="510.70" y="480.50" width="5.4" height="5.4" fill="#ff00ff"/>
<rect x="53.60" y="337.95" width="3.2" height="2.5" fill="#ff0000"/>
<rect x="76.45" y="349.05" width="4.1" height="2.5" fill="#ff0000"/>
<rect x="93.80" y="343.15" width="3.2" height="2.5" fill="#ff0000"/>
<rect x="115.25" y="337.55" width="4.1" height="2.5" fill="#ff0000"/>
<rect x="137.15" y="336.95" width="4.1" height="2.5" fill="#ff0000"/>
<rect x="152.95" y="335.55" width="4.1" height="2.5" fill="#ff0000"/>
<rect x="168.60" y="336.35" width="3.6" height="2.5" fill="#ff0000"/>
<rect x="189.45" y="336.35" width="4.1" height="2.5" fill="#ff0000"/>
<rect x="206.25" y="337.15" width="4.1" height="2.5" fill="#ff0000"/>
<rect x="227.35" y="337.15" width="4.1" height="2.5" fill="#ff0000"/>
<rect x="248.55" y="336.35" width="4.1" height="2.5" fill="#ff0000"/>
<rect x="270.25" y="337.15" width="4.1" height="2.5" fill="#ff0000"/>
<rect x="286.15" y="336.35" width="4.1" height="2.5" fill="#ff0000"/>
<rect x="302.55" y="335.55" width="4.1" height="2.5" fill="#ff0000"/>
<rect x="318.70" y="335.55" width="3.2" height="2.5" fill="#ff0000"/>
<rect x="339.95" y="335.55" width="4.1" height="2.5" fill="#ff0000"/>
<rect x="361.05" y="335.55" width="4.1" height="2.5" fill="#ff0000"/>
<rect x="381.95" y="336.35" width="4.1" height="2.5" fill="#ff0000"/>
<rect x="398.60" y="335.55" width="3.6" height="2.5" fill="#ff0000"/>
<rect x="414.95" y="335.55" width="4.1" height="2.5" fill="#ff0000"/>
<rect x="436.25" y="336.35" width="4.1" height="2.5" fill="#ff0000"/>
<rect x="457.35" y="335.55" width="4.1" height="2.5" fill="#ff0000"/>
<rect x="474.15" y="335.55" width="4.1" height="2.5" fill="#ff0000"/>
<rect x="495.35" y="335.55" width="4.1" height="2.5" fill="#ff0000"/>
<rect x="511.50" y="335.55" width="3.2" height="2.5" fill="#ff0000"/>
<path d="M91.80 436.60L98.80 436.60L95.30 430.00Z" fill="#000"/>
<path d="M113.00 408.10L120.00 408.10L116.50 401.50Z" fill="#000"/>
<path d="M135.10 410.70L142.10 410.70L138.60 404.10Z" fill="#000"/>
<path d="M150.90 392.90L157.90 392.90L154.40 386.30Z" fill="#000"/>
<path d="M166.70 363.20L173.70 363.20L170.20 356.60Z" fill="#000"/>
<path d="M188.00 397.70L195.00 397.70L191.50 391.10Z" fill="#000"/>
<path d="M204.80 404.60L211.80 404.60L208.30 398.00Z" fill="#000"/>
<path d="M225.90 417.60L232.90 417.60L229.40 411.00Z" fill="#000"/>
<path d="M247.10 401.60L254.10 401.60L250.60 395.00Z" fill="#000"/>
<path d="M268.20 382.50L275.20 382.50L271.70 375.90Z" fill="#000"/>
<path d="M283.90 389.00L290.90 389.00L287.40 382.40Z" fill="#000"/>
<path d="M300.70 394.90L307.70 394.90L304.20 388.30Z" fill="#000"/>
<path d="M316.80 398.80L323.80 398.80L320.30 392.20Z" fill="#000"/>
<path d="M337.90 409.10L344.90 409.10L341.40 402.50Z" fill="#000"/>
<path d="M359.20 390.40L366.20 390.40L362.70 383.80Z" fill="#000"/>
<path d="M379.90 406.10L386.90 406.10L383.40 399.50Z" fill="#000"/>
<path d="M396.90 389.80L403.90 389.80L400.40 383.20Z" fill="#000"/>
<path d="M413.10 389.80L420.10 389.80L416.60 383.20Z" fill="#000"/>
<path d="M434.20 403.80L441.20 403.80L437.70 397.20Z" fill="#000"/>
<path d="M455.10 413.60L462.10 413.60L458.60 407.00Z" fill="#000"/>
<path d="M471.90 421.90L478.90 421.90L475.40 415.30Z" fill="#000"/>
<path d="M493.40 426.50L500.40 426.50L496.90 419.90Z" fill="#000"/>
<path d="M510.00 418.10L517.00 418.10L513.50 411.50Z" fill="#000"/>
<ellipse cx="76.50" cy="394.40" rx="3.4" ry="3.15" fill="#0000ff"/>
<ellipse cx="94.30" cy="457.10" rx="3.4" ry="3.15" fill="#0000ff"/>
<ellipse cx="115.70" cy="451.90" rx="3.4" ry="3.15" fill="#0000ff"/>
<ellipse cx="137.70" cy="469.20" rx="3.4" ry="3.15" fill="#0000ff"/>
<ellipse cx="153.40" cy="466.00" rx="3.4" ry="3.15" fill="#0000ff"/>
<ellipse cx="169.30" cy="460.30" rx="3.4" ry="3.15" fill="#0000ff"/>
<ellipse cx="190.80" cy="476.80" rx="3.4" ry="3.15" fill="#0000ff"/>
<ellipse cx="207.30" cy="466.20" rx="3.4" ry="3.15" fill="#0000ff"/>
<ellipse cx="228.60" cy="468.90" rx="3.4" ry="3.15" fill="#0000ff"/>
<ellipse cx="249.90" cy="467.50" rx="3.4" ry="3.15" fill="#0000ff"/>
<ellipse cx="271.00" cy="469.30" rx="3.4" ry="3.15" fill="#0000ff"/>
<ellipse cx="286.90" cy="477.80" rx="3.4" ry="3.15" fill="#0000ff"/>
<ellipse cx="303.80" cy="472.90" rx="3.4" ry="3.15" fill="#0000ff"/>
<ellipse cx="319.70" cy="480.00" rx="3.4" ry="3.15" fill="#0000ff"/>
<ellipse cx="340.90" cy="470.30" rx="3.4" ry="3.15" fill="#0000ff"/>
<ellipse cx="361.90" cy="471.60" rx="3.4" ry="3.15" fill="#0000ff"/>
<ellipse cx="383.50" cy="475.30" rx="3.4" ry="3.15" fill="#0000ff"/>
<ellipse cx="399.80" cy="469.70" rx="3.4" ry="3.15" fill="#0000ff"/>
<ellipse cx="415.70" cy="479.50" rx="3.4" ry="3.15" fill="#0000ff"/>
<ellipse cx="436.90" cy="470.10" rx="3.4" ry="3.15" fill="#0000ff"/>
<ellipse cx="458.10" cy="477.80" rx="3.4" ry="3.15" fill="#0000ff"/>
<ellipse cx="474.80" cy="473.80" rx="3.4" ry="3.15" fill="#0000ff"/>
<ellipse cx="496.30" cy="475.70" rx="3.4" ry="3.15" fill="#0000ff"/>
<ellipse cx="512.80" cy="477.20" rx="3.4" ry="3.15" fill="#0000ff"/>
<path d="M117.20 519.50L123.10 525.00L117.20 530.50L111.30 525.00Z" fill="#009a00"/>
<path d="M271.50 519.30L277.40 524.80L271.50 530.30L265.60 524.80Z" fill="#009a00"/>
<path d="M383.50 519.30L389.40 524.80L383.50 530.30L377.60 524.80Z" fill="#009a00"/>
<path d="M458.80 519.50L464.70 525.00L458.80 530.50L452.90 525.00Z" fill="#009a00"/>
<text transform="translate(86.10,400.70) scale(0.9,1)" font-size="13" font-family="'Liberation Serif','Times New Roman',serif" fill="#111" stroke="#111" stroke-width="0.2" letter-spacing="0.4">68</text>
<text transform="translate(105.10,462.90) scale(0.9,1)" font-size="13" font-family="'Liberation Serif','Times New Roman',serif" fill="#111" stroke="#111" stroke-width="0.2" letter-spacing="0.4">35</text>
<text transform="translate(125.80,459.10) scale(0.9,1)" font-size="13" font-family="'Liberation Serif','Times New Roman',serif" fill="#111" stroke="#111" stroke-width="0.2" letter-spacing="0.4">38</text>
<text transform="translate(148.80,475.10) scale(0.9,1)" font-size="13" font-family="'Liberation Serif','Times New Roman',serif" fill="#111" stroke="#111" stroke-width="0.2" letter-spacing="0.4">29</text>
<text transform="translate(163.80,472.60) scale(0.9,1)" font-size="13" font-family="'Liberation Serif','Times New Roman',serif" fill="#111" stroke="#111" stroke-width="0.2" letter-spacing="0.4">30</text>
<text transform="translate(179.70,466.60) scale(0.9,1)" font-size="13" font-family="'Liberation Serif','Times New Roman',serif" fill="#111" stroke="#111" stroke-width="0.2" letter-spacing="0.4">33</text>
<text transform="translate(200.70,483.50) scale(0.9,1)" font-size="13" font-family="'Liberation Serif','Times New Roman',serif" fill="#111" stroke="#111" stroke-width="0.2" letter-spacing="0.4">25</text>
<text transform="translate(217.20,472.80) scale(0.9,1)" font-size="13" font-family="'Liberation Serif','Times New Roman',serif" fill="#111" stroke="#111" stroke-width="0.2" letter-spacing="0.4">30</text>
<text transform="translate(238.70,475.40) scale(0.9,1)" font-size="13" font-family="'Liberation Serif','Times New Roman',serif" fill="#111" stroke="#111" stroke-width="0.2" letter-spacing="0.4">29</text>
<text transform="translate(260.30,474.10) scale(0.9,1)" font-size="13" font-family="'Liberation Serif','Times New Roman',serif" fill="#111" stroke="#111" stroke-width="0.2" letter-spacing="0.4">30</text>
<text transform="translate(281.40,475.10) scale(0.9,1)" font-size="13" font-family="'Liberation Serif','Times New Roman',serif" fill="#111" stroke="#111" stroke-width="0.2" letter-spacing="0.4">29</text>
<text transform="translate(297.50,484.10) scale(0.9,1)" font-size="13" font-family="'Liberation Serif','Times New Roman',serif" fill="#111" stroke="#111" stroke-width="0.2" letter-spacing="0.4">24</text>
<text transform="translate(313.80,479.70) scale(0.9,1)" font-size="13" font-family="'Liberation Serif','Times New Roman',serif" fill="#111" stroke="#111" stroke-width="0.2" letter-spacing="0.4">27</text>
<text transform="translate(329.30,486.30) scale(0.9,1)" font-size="13" font-family="'Liberation Serif','Times New Roman',serif" fill="#111" stroke="#111" stroke-width="0.2" letter-spacing="0.4">23</text>
<text transform="translate(351.30,476.90) scale(0.9,1)" font-size="13" font-family="'Liberation Serif','Times New Roman',serif" fill="#111" stroke="#111" stroke-width="0.2" letter-spacing="0.4">28</text>
<text transform="translate(371.90,478.80) scale(0.9,1)" font-size="13" font-family="'Liberation Serif','Times New Roman',serif" fill="#111" stroke="#111" stroke-width="0.2" letter-spacing="0.4">28</text>
<text transform="translate(393.50,481.60) scale(0.9,1)" font-size="13" font-family="'Liberation Serif','Times New Roman',serif" fill="#111" stroke="#111" stroke-width="0.2" letter-spacing="0.4">26</text>
<text transform="translate(410.00,475.40) scale(0.9,1)" font-size="13" font-family="'Liberation Serif','Times New Roman',serif" fill="#111" stroke="#111" stroke-width="0.2" letter-spacing="0.4">29</text>
<text transform="translate(426.30,485.40) scale(0.9,1)" font-size="13" font-family="'Liberation Serif','Times New Roman',serif" fill="#111" stroke="#111" stroke-width="0.2" letter-spacing="0.4">24</text>
<text transform="translate(447.50,475.40) scale(0.9,1)" font-size="13" font-family="'Liberation Serif','Times New Roman',serif" fill="#111" stroke="#111" stroke-width="0.2" letter-spacing="0.4">29</text>
<text transform="translate(468.90,484.10) scale(0.9,1)" font-size="13" font-family="'Liberation Serif','Times New Roman',serif" fill="#111" stroke="#111" stroke-width="0.2" letter-spacing="0.4">24</text>
<text transform="translate(485.00,480.70) scale(0.9,1)" font-size="13" font-family="'Liberation Serif','Times New Roman',serif" fill="#111" stroke="#111" stroke-width="0.2" letter-spacing="0.4">27</text>
<text transform="translate(505.60,482.20) scale(0.9,1)" font-size="13" font-family="'Liberation Serif','Times New Roman',serif" fill="#111" stroke="#111" stroke-width="0.2" letter-spacing="0.4">26</text>
<text transform="translate(523.20,483.00) scale(0.9,1)" font-size="13" font-family="'Liberation Serif','Times New Roman',serif" fill="#111" stroke="#111" stroke-width="0.2" letter-spacing="0.4">25</text>
<rect x="151.00" y="265.40" width="337.30" height="16.20" fill="none" stroke="#404040" stroke-width="1.3"/>
<line x1="151.50" y1="282.60" x2="488.90" y2="282.60" stroke="#8a8a8a" stroke-width="1.0"/>
<line x1="156.80" y1="273.90" x2="179.20" y2="273.90" stroke="#ff00ff" stroke-width="1.8"/>
<rect x="165.40" y="271.00" width="5.8" height="5.8" fill="#ff00ff"/>
<text transform="translate(181.10,278.30)" font-size="13.6" font-family="'Liberation Serif','Times New Roman',serif" fill="#111" stroke="#111" stroke-width="0.3" textLength="46.6" lengthAdjust="spacingAndGlyphs">VC/mL</text>
<text transform="translate(258.70,278.30)" font-size="13.6" font-family="'Liberation Serif','Times New Roman',serif" fill="#111" stroke="#111" stroke-width="0.3" textLength="18.2" lengthAdjust="spacingAndGlyphs">Qp</text>
<text transform="translate(307.00,278.30)" font-size="13.6" font-family="'Liberation Serif','Times New Roman',serif" fill="#111" stroke="#111" stroke-width="0.3" textLength="54.0" lengthAdjust="spacingAndGlyphs">Viability</text>
<text transform="translate(391.20,278.30)" font-size="13.6" font-family="'Liberation Serif','Times New Roman',serif" fill="#111" stroke="#111" stroke-width="0.3" textLength="27.6" lengthAdjust="spacingAndGlyphs">PDT</text>
<text transform="translate(450.40,278.30)" font-size="13.6" font-family="'Liberation Serif','Times New Roman',serif" fill="#111" stroke="#111" stroke-width="0.3" textLength="34.5" lengthAdjust="spacingAndGlyphs">Batch</text>
<path d="M241.10 276.80L248.10 276.80L244.60 270.60Z" fill="#000"/>
<rect x="292.30" y="272.70" width="3.0" height="2.8" fill="#ff0000"/>
<ellipse cx="377.40" cy="273.50" rx="3.5" ry="3.0" fill="#0000ff"/>
<path d="M437.40 268.80L443.00 273.90L437.40 279.00L431.80 273.90Z" fill="#009a00"/>
<rect x="147.30" y="568.40" width="328.40" height="15.10" fill="none" stroke="#404040" stroke-width="1.3"/>
<line x1="147.80" y1="584.50" x2="476.30" y2="584.50" stroke="#8a8a8a" stroke-width="1.0"/>
<line x1="156.30" y1="576.20" x2="176.80" y2="576.20" stroke="#ff00ff" stroke-width="1.8"/>
<rect x="163.40" y="573.30" width="5.8" height="5.8" fill="#ff00ff"/>
<text transform="translate(179.30,580.90)" font-size="14" font-family="'Liberation Serif','Times New Roman',serif" fill="#111" stroke="#111" stroke-width="0.3" textLength="41.8" lengthAdjust="spacingAndGlyphs">VC/mL</text>
<text transform="translate(252.90,580.90)" font-size="14" font-family="'Liberation Serif','Times New Roman',serif" fill="#111" stroke="#111" stroke-width="0.3" textLength="16.0" lengthAdjust="spacingAndGlyphs">Qp</text>
<text transform="translate(300.10,580.90)" font-size="14" font-family="'Liberation Serif','Times New Roman',serif" fill="#111" stroke="#111" stroke-width="0.3" textLength="48.8" lengthAdjust="spacingAndGlyphs">Viability</text>
<text transform="translate(380.80,580.90)" font-size="14" font-family="'Liberation Serif','Times New Roman',serif" fill="#111" stroke="#111" stroke-width="0.3" textLength="26.3" lengthAdjust="spacingAndGlyphs">PDT</text>
<text transform="translate(438.60,580.90)" font-size="14" font-family="'Liberation Serif','Times New Roman',serif" fill="#111" stroke="#111" stroke-width="0.3" textLength="30.7" lengthAdjust="spacingAndGlyphs">Batch</text>
<path d="M236.00 579.10L243.00 579.10L239.50 572.90Z" fill="#000"/>
<rect x="285.90" y="575.00" width="3.0" height="2.8" fill="#ff0000"/>
<ellipse cx="367.90" cy="575.50" rx="3.3" ry="3.1" fill="#0000ff"/>
<path d="M425.20 571.50L429.70 576.20L425.20 580.90L420.70 576.20Z" fill="#009a00"/>
<text transform="translate(265.20,11.40)" font-size="16" font-family="'Liberation Serif','Times New Roman',serif" fill="#111" font-weight="bold" textLength="42.6" lengthAdjust="spacingAndGlyphs">Clone</text>
<text transform="translate(314.70,11.40)" font-size="16" font-family="'Liberation Serif','Times New Roman',serif" fill="#111" font-weight="bold" textLength="28.8" lengthAdjust="spacingAndGlyphs">R10</text>
<text transform="translate(249.10,316.80)" font-size="16" font-family="'Liberation Serif','Times New Roman',serif" fill="#111" font-weight="bold" textLength="39.2" lengthAdjust="spacingAndGlyphs">Clone</text>
<text transform="translate(293.00,316.80)" font-size="16" font-family="'Liberation Serif','Times New Roman',serif" fill="#111" font-weight="bold" textLength="19.4" lengthAdjust="spacingAndGlyphs">R4</text>
<text transform="translate(2.00,25.10)" font-size="21.5" font-family="'Liberation Sans',Arial,sans-serif" fill="#000" font-weight="bold" stroke="#000" stroke-width="0.5">a</text>
<text transform="translate(3.10,328.30)" font-size="21.5" font-family="'Liberation Sans',Arial,sans-serif" fill="#000" font-weight="bold" stroke="#000" stroke-width="0.5">b</text>
<text transform="translate(255.90,260.00)" font-size="15" font-family="'Liberation Serif','Times New Roman',serif" fill="#111" stroke="#111" stroke-width="0.15" font-weight="bold" textLength="132.4" lengthAdjust="spacingAndGlyphs">Culture Time (days)</text>
<text transform="translate(255.40,561.80)" font-size="14.5" font-family="'Liberation Serif','Times New Roman',serif" fill="#111" stroke="#111" stroke-width="0.15" font-weight="bold" textLength="121.8" lengthAdjust="spacingAndGlyphs">Culture Time (days)</text>
<text transform="translate(13.00,204.40) rotate(-90)" font-size="15.5" font-family="'Liberation Serif','Times New Roman',serif" fill="#111" font-weight="bold" textLength="72.3" lengthAdjust="spacingAndGlyphs">Cell density</text>
<text transform="translate(13.00,129.60) rotate(-90)" font-size="15.5" font-family="'Liberation Serif','Times New Roman',serif" fill="#111" font-weight="bold" textLength="85.0" lengthAdjust="spacingAndGlyphs">(x10<tspan dy="-5" font-size="9.5">6</tspan><tspan dy="5">cells/mL)</tspan></text>
<text transform="translate(12.80,507.10) rotate(-90)" font-size="15.5" font-family="'Liberation Serif','Times New Roman',serif" fill="#111" font-weight="bold" textLength="71.6" lengthAdjust="spacingAndGlyphs">Cell density</text>
<text transform="translate(12.80,432.50) rotate(-90)" font-size="15.5" font-family="'Liberation Serif','Times New Roman',serif" fill="#111" font-weight="bold" textLength="88.3" lengthAdjust="spacingAndGlyphs">(x10<tspan dy="-5" font-size="9.5">6</tspan><tspan dy="5">cells/mL)</tspan></text>
<text transform="translate(603.70,182.80) rotate(-90)" font-size="15" font-family="'Liberation Serif','Times New Roman',serif" fill="#111" font-weight="bold" textLength="111.7" lengthAdjust="spacingAndGlyphs">Pdt / Viability (%)</text>
<text transform="translate(601.50,482.70) rotate(-90)" font-size="15" font-family="'Liberation Serif','Times New Roman',serif" fill="#111" font-weight="bold" textLength="108.3" lengthAdjust="spacingAndGlyphs">Pdt / Viability (%)</text>
</svg>
</body></html>
